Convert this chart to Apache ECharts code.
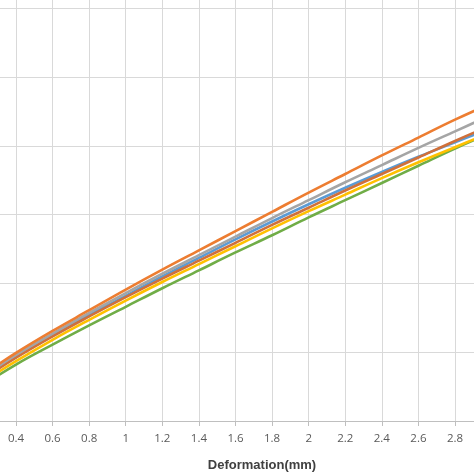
<!DOCTYPE html>
<html>
<head>
<meta charset="utf-8">
<script src="https://cdn.jsdelivr.net/npm/echarts@6/dist/echarts.min.js"></script>
<style>
html,body{margin:0;padding:0;background:#fff;}
#c{width:474px;height:474px;}
</style>
</head>
<body>
<div id="c"></div>
<script>
// Deformation (mm)
var deformation = [0.2,0.4,0.6,0.8,1.0,1.2,1.4,1.6,1.8,2.0,2.2,2.4,2.6,2.8,3.0];
// Load values for each specimen (one gridline = 1 unit)
var specimenOrange = [0.64,0.99,1.31,1.61,1.91,2.20,2.48,2.76,3.04,3.32,3.59,3.86,4.12,4.38,4.62];
var specimenGray   = [0.61,0.96,1.27,1.57,1.86,2.14,2.41,2.68,2.95,3.21,3.47,3.72,3.97,4.21,4.45];
var specimenBrown  = [0.58,0.92,1.23,1.52,1.80,2.07,2.33,2.59,2.85,3.10,3.35,3.59,3.83,4.07,4.30];
var specimenBlue   = [0.60,0.93,1.24,1.54,1.82,2.10,2.37,2.64,2.90,3.15,3.39,3.62,3.84,4.05,4.26];
var specimenYellow = [0.54,0.87,1.18,1.47,1.75,2.02,2.28,2.54,2.80,3.05,3.29,3.53,3.76,3.98,4.20];
var specimenGreen  = [0.49,0.82,1.11,1.39,1.66,1.93,2.19,2.45,2.70,2.96,3.21,3.46,3.71,3.96,4.19];

var seriesList = [
  {name:'S1', data:specimenGreen,  color:'#70AD47'},
  {name:'S2', data:specimenYellow, color:'#FFC000'},
  {name:'S3', data:specimenBlue,   color:'#5B9BD5'},
  {name:'S4', data:specimenBrown,  color:'#D0703A'},
  {name:'S5', data:specimenGray,   color:'#A5A5A5'},
  {name:'S6', data:specimenOrange, color:'#ED7D31'}
];

function pairs(ys){ return deformation.map(function(x,i){ return [x, ys[i]]; }); }

var chart = echarts.init(document.getElementById('c'), null, {renderer:'canvas'});
chart.setOption({
  animation:false,
  backgroundColor:'#ffffff',
  grid:{left:-20.6, right:-17.6, top:-60.6, bottom:53, containLabel:false, outerBoundsMode:'none'},
  xAxis:{
    type:'value', min:0.2, max:3.0, interval:0.2,
    name:'Deformation(mm)', nameLocation:'middle', nameGap:38,
    nameTextStyle:{fontFamily:'Liberation Sans', fontWeight:'bold', fontSize:13, color:'#404040', padding:[0,0,0,53]},
    axisLine:{lineStyle:{color:'#bfbfbf', width:1}},
    axisTick:{show:true, length:5, lineStyle:{color:'#bfbfbf'}},
    axisLabel:{color:'#595959', fontFamily:'Open Sans', fontSize:11.5, margin:12,
      formatter:function(v){ return String(Math.round(v*10)/10); }},
    splitLine:{show:true, lineStyle:{color:'#d9d9d9', width:1}}
  },
  yAxis:{
    type:'value', min:0, max:7, interval:1,
    axisLine:{show:false}, axisTick:{show:false}, axisLabel:{show:false},
    splitLine:{show:true, lineStyle:{color:'#d9d9d9', width:1}}
  },
  series: seriesList.map(function(s){
    return {name:s.name, type:'line', data:pairs(s.data), smooth:0.4, showSymbol:false,
      lineStyle:{color:s.color, width:2.6}, itemStyle:{color:s.color}};
  })
});
</script>
</body>
</html>
